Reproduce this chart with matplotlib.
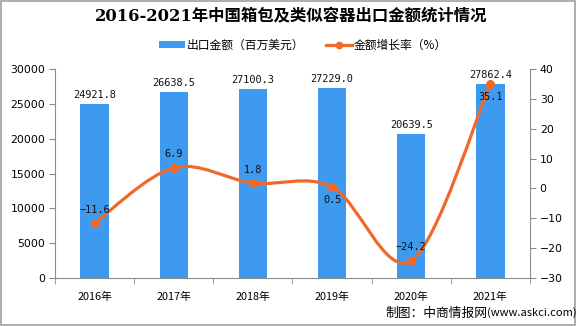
import matplotlib
matplotlib.use("Agg")
import matplotlib.pyplot as plt
from matplotlib.path import Path
from matplotlib.patches import PathPatch, Rectangle, Patch
from matplotlib.lines import Line2D
import numpy as np

plt.rcParams['font.family'] = ['DejaVu Sans', 'Noto Sans CJK SC']

years = ['2016年', '2017年', '2018年', '2019年', '2020年', '2021年']
export_value = [24921.8, 26638.5, 27100.3, 27229.0, 20639.5, 27862.4]
growth_rate = [-11.6, 6.9, 1.8, 0.5, -24.2, 35.1]
# label placement for growth values: above (+1) or below (-1) the point
growth_label_side = [1, 1, 1, -1, 1, -1]

BAR_COLOR = '#3E9AEF'
LINE_COLOR = '#F0692A'
AXIS_COLOR = '#8C8C8C'
CJK = ['Noto Sans CJK SC', 'DejaVu Sans']
MONO = ['DejaVu Sans Mono', 'Noto Sans CJK SC']

fig = plt.figure(figsize=(5.76, 3.26), dpi=100)
ax = fig.add_axes([55 / 576, 48 / 326, 475 / 576, 209 / 326])
ax2 = ax.twinx()

x = np.arange(len(years))
ax.bar(x, export_value, width=0.36, color=BAR_COLOR, zorder=2)
for xi, v in zip(x, export_value):
    ax.annotate(f'{v:.1f}', (xi, v), xytext=(0, 3), textcoords='offset points',
                ha='center', va='bottom', fontsize=7.4, family=MONO, color='#111111')

ax.set_xlim(-0.5, len(years) - 0.5)
ax.set_ylim(0, 30000)
ax.set_yticks(range(0, 30001, 5000))
ax.set_xticks(x)
ax.set_xticklabels(years, fontsize=7.8, family=CJK)
ax.set_xticks(np.arange(-0.5, len(years), 1.0), minor=True)
ax.tick_params(axis='x', which='major', length=0, pad=10)
ax.tick_params(axis='x', which='minor', length=4, color=AXIS_COLOR, direction='out')
ax.tick_params(axis='y', length=4, color=AXIS_COLOR, labelsize=7.8, pad=3)

ax2.set_ylim(-30, 40)
ax2.set_yticks(range(-30, 41, 10))
ax2.set_yticklabels([str(t).replace('-', '−') for t in range(-30, 41, 10)])
ax2.tick_params(axis='y', length=4, color=AXIS_COLOR, labelsize=7.8, pad=3)

for a in (ax, ax2):
    a.spines['top'].set_visible(False)
    for s in ('left', 'right', 'bottom'):
        a.spines[s].set_color(AXIS_COLOR)
        a.spines[s].set_linewidth(0.8)
ax.spines['right'].set_visible(False)
ax2.spines['left'].set_visible(False)
ax2.spines['bottom'].set_visible(False)

# smoothed growth-rate line: cubic Bezier segments through the data points
xs = x.astype(float)
ys = np.array(growth_rate, dtype=float)
n = len(xs)
verts = [(xs[0], ys[0])]
codes = [Path.MOVETO]
for i in range(n - 1):
    p0 = (xs[max(i - 1, 0)], ys[max(i - 1, 0)])
    p1 = (xs[i], ys[i])
    p2 = (xs[i + 1], ys[i + 1])
    p3 = (xs[min(i + 2, n - 1)], ys[min(i + 2, n - 1)])
    c1 = (p1[0] + (p2[0] - p0[0]) / 6, p1[1] + (p2[1] - p0[1]) / 6)
    c2 = (p2[0] - (p3[0] - p1[0]) / 6, p2[1] - (p3[1] - p1[1]) / 6)
    verts += [c1, c2, p2]
    codes += [Path.CURVE4] * 3
ax2.add_patch(PathPatch(Path(verts, codes), facecolor='none', edgecolor=LINE_COLOR,
                        lw=2.3, zorder=3, capstyle='round'))
ax2.plot(xs, ys, 'o', color=LINE_COLOR, markersize=5.5, zorder=4)
for xi, v, side in zip(xs, ys, growth_label_side):
    ax2.annotate(f'{v:.1f}'.replace('-', '−'), (xi, v), xytext=(0, 6 * side),
                 textcoords='offset points', ha='center',
                 va='bottom' if side > 0 else 'top', fontsize=7.4, family=MONO,
                 color='#111111', zorder=5)

# title, legend and source note
fig.text(291 / 576, 1 - 17 / 326, '2016-2021年中国箱包及类似容器出口金额统计情况',
         ha='center', va='center', fontsize=11.8, fontweight='bold',
         family=['DejaVu Serif', 'Noto Sans CJK SC'])

handles = [Patch(facecolor=BAR_COLOR, edgecolor='none'),
           Line2D([0], [0], color=LINE_COLOR, lw=2.3, marker='o', markersize=4.5)]
fig.legend(handles, ['出口金额（百万美元）', '金额增长率（%）'], loc='center',
           bbox_to_anchor=(303 / 576, 1 - 45 / 326), ncol=2, frameon=False,
           prop={'family': CJK, 'size': 8.5}, handlelength=2.2, handleheight=0.55,
           handletextpad=0.2, columnspacing=1.8)

note = fig.text(385 / 576, 1 - 313 / 326, '制图：中商情报网',
                ha='left', va='center', fontsize=9.2, family=CJK)
fig.canvas.draw()
bb = note.get_window_extent()
fig.text(bb.x1 / 576, 1 - 313 / 326, '(www.askci.com)', ha='left', va='center',
         fontsize=8, family=CJK)

fig.add_artist(Rectangle((0.002, 0.003), 0.996, 0.994, transform=fig.transFigure,
                         fill=False, edgecolor='#A0A0A0', lw=1.2))

fig.savefig('out.png', dpi=100)
